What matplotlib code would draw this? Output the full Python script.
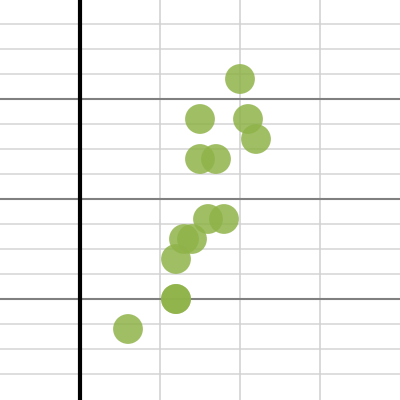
import matplotlib
matplotlib.use("Agg")
import matplotlib.pyplot as plt
import numpy as np

# data
x_vals = [0.6, 1.2, 1.2, 1.2, 1.3, 1.4, 1.6, 1.8, 1.5, 1.7, 1.5, 2.1, 2.2, 2.0]
y_vals = [3.5, 5.0, 5.0, 7.0, 8.0, 8.0, 9.0, 9.0, 12.0, 12.0, 14.0, 14.0, 13.0, 16.0]

fig = plt.figure(figsize=(4, 4), dpi=100)
ax = fig.add_axes([0, 0, 1, 1])
ax.set_xlim(-1, 4)
ax.set_ylim(-0.05, 19.95)

# light grid
for y in np.arange(1.25, 20, 1.25):
    if abs(y % 5) < 1e-9:
        continue
    ax.axhline(y, color='#d4d4d4', linewidth=1.1, zorder=1)
for x in [1, 2, 3]:
    ax.axvline(x, color='#d0d0d0', linewidth=1.1, zorder=1)

# major lines
for y in [5, 10, 15]:
    ax.axhline(y, color='#808080', linewidth=1.5, zorder=2)
ax.axvline(0, color='black', linewidth=3, zorder=3)

ax.scatter(x_vals, y_vals, s=460, color='#8fb349', alpha=0.85,
           edgecolors='none', zorder=4)

for s in ax.spines.values():
    s.set_visible(False)
ax.set_xticks([])
ax.set_yticks([])

fig.savefig('out.png', dpi=100, facecolor='white')
